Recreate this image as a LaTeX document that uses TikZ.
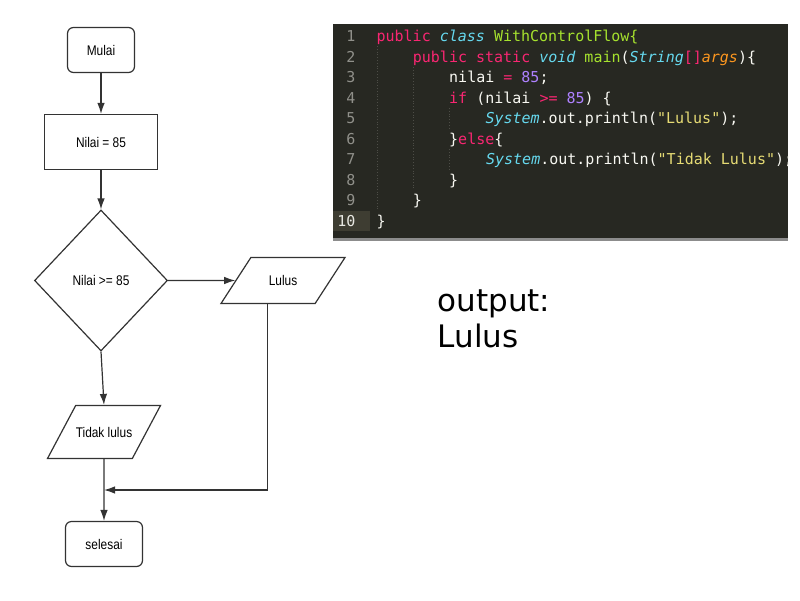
\documentclass[tikz,border=0pt]{standalone}
\usepackage{fontspec}
\setmainfont{DejaVu Sans}
\setmonofont{DejaVu Sans Mono}
\newfontfamily\flowfont[FakeStretch=0.85]{Liberation Sans}
\usetikzlibrary{shapes.geometric,arrows.meta}

% editor colours
\definecolor{edbg}{HTML}{272822}
\definecolor{edfg}{HTML}{F8F8F2}
\definecolor{edpink}{HTML}{F92672}
\definecolor{edcyan}{HTML}{66D9EF}
\definecolor{edgreen}{HTML}{A6E22E}
\definecolor{edpurple}{HTML}{AE81FF}
\definecolor{edyellow}{HTML}{E6DB74}
\definecolor{edorange}{HTML}{FD971F}
\definecolor{edgutter}{HTML}{90908A}
\definecolor{edline}{HTML}{3E3D32}
\definecolor{edguide}{HTML}{4D4D47}
\definecolor{flowline}{HTML}{333333}

\newcommand{\jkw}[1]{\textcolor{edpink}{#1}}
\newcommand{\jty}[1]{\textcolor{edcyan}{\itshape #1}}
\newcommand{\jfn}[1]{\textcolor{edgreen}{#1}}
\newcommand{\jnum}[1]{\textcolor{edpurple}{#1}}
\newcommand{\jstr}[1]{\textcolor{edyellow}{#1}}
\newcommand{\jarg}[1]{\textcolor{edorange}{\itshape #1}}

\begin{document}
\begin{tikzpicture}[
    x=1pt, y=-1pt,
    >={Latex[length=11pt,width=7.5pt]},
    line width=1.2pt,
    flow/.style={
        draw=flowline,
        fill=white,
        align=center,
        font=\flowfont\fontsize{14}{16}\selectfont
    },
    term/.style={flow, rectangle, rounded corners=6pt, minimum width=67pt, minimum height=45pt},
    proc/.style={flow, rectangle, minimum width=113pt, minimum height=55pt},
    cond/.style={flow, diamond, aspect=0.94, minimum width=133pt, minimum height=141pt, inner sep=0pt},
    io/.style={flow, trapezium, trapezium stretches body, text height=10pt, text depth=0pt, inner xsep=0pt},
    gutter/.style={anchor=base east, inner sep=0pt, text=edgutter, font=\ttfamily\fontsize{15}{18}\selectfont},
    code/.style={anchor=base west, inner sep=0pt, text=edfg, font=\ttfamily\fontsize{15}{18}\selectfont}
]
\useasboundingbox[fill=white] (0,0) rectangle (800,600);

% flowchart
\node[term] (mulai) at (101,50) {Mulai};
\node[proc] (nilai) at (101,142) {Nilai = 85};
\node[cond] (cek) at (101,280.5) {Nilai >= 85};
\node[io, trapezium left angle=57, trapezium right angle=123, inner ysep=18pt, minimum width=124pt] (lulus) at (283,280.5) {Lulus};
\node[io, trapezium left angle=62, trapezium right angle=118, inner ysep=21.5pt, minimum width=113pt] (tidak) at (104,432) {Tidak lulus};
\node[term, minimum width=77pt] (selesai) at (104,544) {selesai};
\coordinate (gabung) at (104,490);

\draw[->, flowline] (mulai) -- (nilai);
\draw[->, flowline] (nilai) -- (cek);
\draw[->, flowline] (cek.east) -- (lulus);
\draw[->, flowline] (cek.south) -- (tidak.north);
\draw[->, flowline] (tidak.south) -- (selesai.north);
\draw[->, flowline] (lulus.bottom side) |- (gabung);

% code editor
\fill[edbg] (333,24) rectangle (788,241);
\fill[black!45] (333,238) rectangle (788,241);
\fill[edline] (333,211) rectangle (370,231);
\begin{scope}
\clip (333,24) rectangle (788,238);
\foreach \n in {1,...,9}
    \node[gutter] (ln\n) at (356,{41.5+20.55*(\n-1)}) {\n};
\node[gutter, text=edfg!85!edgutter] (ln10) at (356,226.5) {10};
\draw[edguide, line width=0.8pt, dotted] (377,46) -- (377,210);
\draw[edguide, line width=0.8pt, dotted] (413,67) -- (413,190);
\draw[edguide, line width=0.8pt, dotted] (449,108) -- (449,128);
\draw[edguide, line width=0.8pt, dotted] (449,149) -- (449,169);
\node[code] (c1) at (376,41.5) {\jkw{public} \jty{class} \jfn{WithControlFlow\{}};
\node[code] (c2) at (412.3,62.05) {\jkw{public} \jkw{static} \jty{void} \jfn{main}(\jty{String}\jkw{[]}\jarg{args})\{};
\node[code] (c3) at (448.6,82.6) {nilai \jkw{=} \jnum{85};};
\node[code] (c4) at (448.6,103.15) {\jkw{if} (nilai \jkw{>=} \jnum{85}) \{};
\node[code] (c5) at (484.9,123.7) {\jty{System}.out.println(\jstr{"Lulus"});};
\node[code] (c6) at (448.6,144.25) {\}\jkw{else}\{};
\node[code] (c7) at (485.5,164.8) {\jty{System}.out.println(\jstr{"Tidak Lulus"});};
\node[code] (c8) at (448.6,185.35) {\}};
\node[code] (c9) at (412.3,205.9) {\}};
\node[code] (c10) at (376,226.45) {\}};
\end{scope}

% output
\node[anchor=north west, inner sep=0pt, align=left, font=\fontsize{31}{36}\selectfont] (hasil) at (437,289.5) {output:\\Lulus};
\end{tikzpicture}
\end{document}
